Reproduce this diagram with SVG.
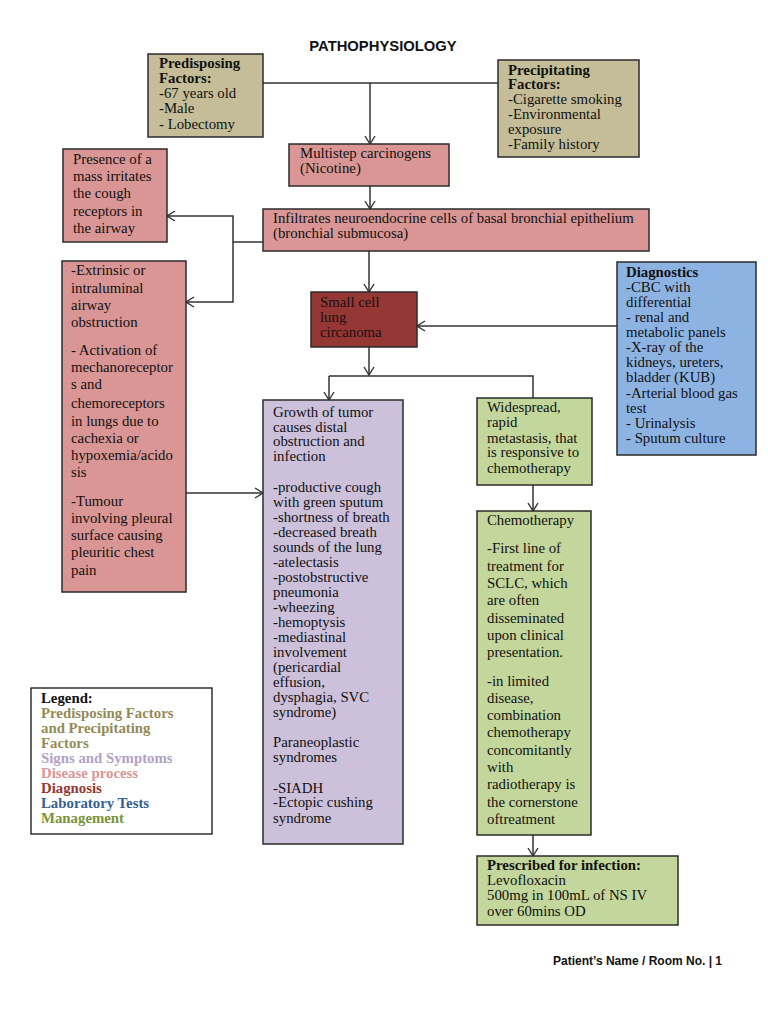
<svg xmlns="http://www.w3.org/2000/svg" width="768" height="1024" viewBox="0 0 768 1024">
<style>
.t{font-family:"Liberation Serif","Times New Roman",serif;font-size:14.8px;fill:#111}
.b{font-weight:bold}
.box{stroke:#2b2b2b;stroke-width:1.5}
.khaki{fill:#c4bd97}
.pink{fill:#d99694}
.dred{fill:#953735}
.purple{fill:#ccc0da}
.blue{fill:#8db3e2}
.green{fill:#c3d69b}
.con{fill:none;stroke:#333;stroke-width:1.5}
</style>
<defs>
<marker id="arr" markerUnits="userSpaceOnUse" markerWidth="10" markerHeight="12" viewBox="0 0 10 12" refX="9" refY="6" orient="auto">
<path d="M1,1 L9,6 L1,11" fill="none" stroke="#333" stroke-width="1.4"/>
</marker>
</defs>
<rect width="768" height="1024" fill="#fff"/>
<text x="383" y="51" text-anchor="middle" style="font-family:'Liberation Sans',Arial,sans-serif;font-size:14.8px;font-weight:bold;fill:#111">PATHOPHYSIOLOGY</text>

<g id="connectors">
<path class="con" d="M263,83 H498"/>
<path class="con" d="M370,83 V144" marker-end="url(#arr)"/>
<path class="con" d="M370,186 V209" marker-end="url(#arr)"/>
<path class="con" d="M263,242 H233 V216 H167" marker-end="url(#arr)"/>
<path class="con" d="M233,242 V302 H186" marker-end="url(#arr)"/>
<path class="con" d="M369,251 V292" marker-end="url(#arr)"/>
<path class="con" d="M617,326 H417" marker-end="url(#arr)"/>
<path class="con" d="M369,347 V375" marker-end="url(#arr)"/>
<path class="con" d="M329,376 H533 V398"/>
<path class="con" d="M329,376 V400" marker-end="url(#arr)"/>
<path class="con" d="M186,493 H263" marker-end="url(#arr)"/>
<path class="con" d="M533,485 V511" marker-end="url(#arr)"/>
<path class="con" d="M533,835 V856" marker-end="url(#arr)"/>
</g>

<g id="predisposing">
<rect class="box khaki" x="148" y="54" width="115" height="83"/>
<text class="t"><tspan class="b" x="159" y="68">Predisposing</tspan><tspan class="b" x="159" y="83">Factors:</tspan><tspan x="159" y="98">-67 years old</tspan><tspan x="159" y="113">-Male</tspan><tspan x="159" y="129">- Lobectomy</tspan></text>
</g>

<g id="precipitating">
<rect class="box khaki" x="498" y="60" width="141" height="97"/>
<text class="t"><tspan class="b" x="508" y="75">Precipitating</tspan><tspan class="b" x="508" y="89">Factors:</tspan><tspan x="508" y="104">-Cigarette smoking</tspan><tspan x="508" y="119">-Environmental</tspan><tspan x="508" y="134">exposure</tspan><tspan x="508" y="149">-Family history</tspan></text>
</g>

<g id="multistep">
<rect class="box pink" x="289" y="144" width="160" height="42"/>
<text class="t"><tspan x="300" y="158">Multistep carcinogens</tspan><tspan x="300" y="173">(Nicotine)</tspan></text>
</g>

<g id="infiltrates">
<rect class="box pink" x="263" y="209" width="386" height="42"/>
<text class="t"><tspan x="273" y="223">Infiltrates neuroendocrine cells of basal bronchial epithelium</tspan><tspan x="273" y="238">(bronchial submucosa)</tspan></text>
</g>

<g id="presence">
<rect class="box pink" x="63" y="149" width="104" height="93"/>
<text class="t"><tspan x="73" y="164">Presence of a</tspan><tspan x="73" y="181">mass irritates</tspan><tspan x="73" y="198">the cough</tspan><tspan x="73" y="216">receptors in</tspan><tspan x="73" y="233">the airway</tspan></text>
</g>

<g id="extrinsic">
<rect class="box pink" x="62" y="261" width="124" height="331"/>
<text class="t"><tspan x="71" y="275">-Extrinsic or</tspan><tspan x="71" y="293">intraluminal</tspan><tspan x="71" y="310">airway</tspan><tspan x="71" y="327">obstruction</tspan><tspan x="71" y="355">- Activation of</tspan><tspan x="71" y="372">mechanoreceptor</tspan><tspan x="71" y="389">s and</tspan><tspan x="71" y="408">chemoreceptors</tspan><tspan x="71" y="426">in lungs due to</tspan><tspan x="71" y="443">cachexia or</tspan><tspan x="71" y="460">hypoxemia/acido</tspan><tspan x="71" y="477">sis</tspan><tspan x="71" y="506">-Tumour</tspan><tspan x="71" y="523">involving pleural</tspan><tspan x="71" y="540">surface causing</tspan><tspan x="71" y="557">pleuritic chest</tspan><tspan x="71" y="575">pain</tspan></text>
</g>

<g id="smallcell">
<rect class="box dred" x="311" y="292" width="106" height="55"/>
<text class="t" style="fill:#1a1010"><tspan x="320" y="307">Small cell</tspan><tspan x="320" y="322">lung</tspan><tspan x="320" y="337">circanoma</tspan></text>
</g>

<g id="diagnostics">
<rect class="box blue" x="617" y="262" width="139" height="193"/>
<text class="t"><tspan class="b" x="626" y="277">Diagnostics</tspan><tspan x="626" y="292">-CBC with</tspan><tspan x="626" y="307">differential</tspan><tspan x="626" y="322">- renal and</tspan><tspan x="626" y="337">metabolic panels</tspan><tspan x="626" y="352">-X-ray of the</tspan><tspan x="626" y="367">kidneys, ureters,</tspan><tspan x="626" y="382">bladder (KUB)</tspan><tspan x="626" y="398">-Arterial blood gas</tspan><tspan x="626" y="413">test</tspan><tspan x="626" y="428">- Urinalysis</tspan><tspan x="626" y="443">- Sputum culture</tspan></text>
</g>

<g id="growth">
<rect class="box purple" x="263" y="400" width="140" height="444"/>
<text class="t"><tspan x="273" y="417">Growth of tumor</tspan><tspan x="273" y="432">causes distal</tspan><tspan x="273" y="446">obstruction and</tspan><tspan x="273" y="461">infection</tspan><tspan x="273" y="492">-productive cough</tspan><tspan x="273" y="507">with green sputum</tspan><tspan x="273" y="522">-shortness of breath</tspan><tspan x="273" y="537">-decreased breath</tspan><tspan x="273" y="552">sounds of the lung</tspan><tspan x="273" y="567">-atelectasis</tspan><tspan x="273" y="582">-postobstructive</tspan><tspan x="273" y="597">pneumonia</tspan><tspan x="273" y="612">-wheezing</tspan><tspan x="273" y="627">-hemoptysis</tspan><tspan x="273" y="642">-mediastinal</tspan><tspan x="273" y="657">involvement</tspan><tspan x="273" y="672">(pericardial</tspan><tspan x="273" y="687">effusion,</tspan><tspan x="273" y="702">dysphagia, SVC</tspan><tspan x="273" y="717">syndrome)</tspan><tspan x="273" y="747">Paraneoplastic</tspan><tspan x="273" y="762">syndromes</tspan><tspan x="273" y="793">-SIADH</tspan><tspan x="273" y="807">-Ectopic cushing</tspan><tspan x="273" y="823">syndrome</tspan></text>
</g>

<g id="widespread">
<rect class="box green" x="477" y="398" width="115" height="87"/>
<text class="t"><tspan x="487" y="412">Widespread,</tspan><tspan x="487" y="427">rapid</tspan><tspan x="487" y="443">metastasis, that</tspan><tspan x="487" y="457">is responsive to</tspan><tspan x="487" y="473">chemotherapy</tspan></text>
</g>

<g id="chemotherapy">
<rect class="box green" x="477" y="511" width="114" height="324"/>
<text class="t"><tspan x="487" y="525">Chemotherapy</tspan><tspan x="487" y="553">-First line of</tspan><tspan x="487" y="571">treatment for</tspan><tspan x="487" y="588">SCLC, which</tspan><tspan x="487" y="605">are often</tspan><tspan x="487" y="623">disseminated</tspan><tspan x="487" y="640">upon clinical</tspan><tspan x="487" y="657">presentation.</tspan><tspan x="487" y="686">-in limited</tspan><tspan x="487" y="703">disease,</tspan><tspan x="487" y="720">combination</tspan><tspan x="487" y="737">chemotherapy</tspan><tspan x="487" y="755">concomitantly</tspan><tspan x="487" y="772">with</tspan><tspan x="487" y="789">radiotherapy is</tspan><tspan x="487" y="807">the cornerstone</tspan><tspan x="487" y="824">oftreatment</tspan></text>
</g>

<g id="prescribed">
<rect class="box green" x="477" y="856" width="201" height="69"/>
<text class="t"><tspan class="b" x="487" y="870">Prescribed for infection:</tspan><tspan x="487" y="885">Levofloxacin</tspan><tspan x="487" y="900">500mg in 100mL of NS IV</tspan><tspan x="487" y="916">over 60mins OD</tspan></text>
</g>

<g id="legend">
<rect x="31" y="688" width="181" height="146" fill="#fff" stroke="#111" stroke-width="1.3"/>
<text class="t b"><tspan x="41" y="703">Legend:</tspan><tspan x="41" y="718" style="fill:#948a54">Predisposing Factors</tspan><tspan x="41" y="733" style="fill:#948a54">and Precipitating</tspan><tspan x="41" y="748" style="fill:#948a54">Factors</tspan><tspan x="41" y="763" style="fill:#b2a1c7">Signs and Symptoms</tspan><tspan x="41" y="778" style="fill:#d99694">Disease process</tspan><tspan x="41" y="793" style="fill:#953735">Diagnosis</tspan><tspan x="41" y="808" style="fill:#366092">Laboratory Tests</tspan><tspan x="41" y="823" style="fill:#77933c">Management</tspan></text>
</g>

<text x="722" y="965" text-anchor="end" style="font-family:'Liberation Sans',Arial,sans-serif;font-size:12px;font-weight:bold;fill:#111">Patient’s Name / Room No. | 1</text>
</svg>
